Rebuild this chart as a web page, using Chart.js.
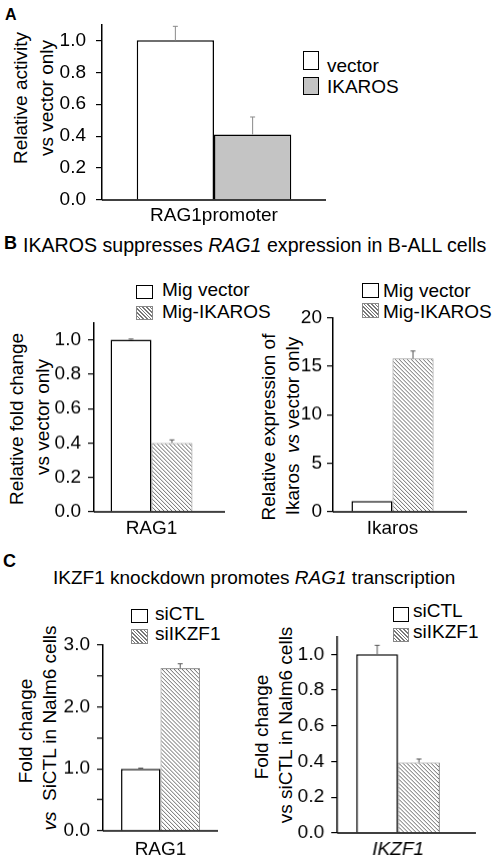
<!DOCTYPE html>
<html>
<head>
<meta charset="utf-8">
<script src="https://cdn.jsdelivr.net/npm/chart.js@4.4.1/dist/chart.umd.min.js"></script>
<style>
  html, body { margin: 0; padding: 0; background: #fff; }
  #page { position: relative; width: 494px; height: 858px; overflow: hidden; font-family: "Liberation Sans", Arial, sans-serif; color: #000; }
  #page canvas { position: absolute; }
  .txt { position: absolute; white-space: nowrap; font-size: 19px; line-height: 19px; }
  .letter { position: absolute; font-weight: bold; line-height: 1; }
  .ytitle { position: absolute; white-space: nowrap; font-size: 19px; line-height: 19px; transform: translate(-50%, -50%) rotate(-90deg); }
  .swatch { position: absolute; box-sizing: border-box; }
  .sw-open { border: 1.5px solid #000; background: #fff; }
  .sw-gray { border: 1.5px solid #000; background: #c4c4c4; }
  .sw-hatch { border: 1px solid #888; background: repeating-linear-gradient(45deg, #fff 0 1.6px, #777 1.6px 2.6px); }
</style>
</head>
<body>
<div id="page">
  <div class="letter" style="left:5px; top:7px; font-size:16px;">A</div>
  <div class="letter" style="left:4px; top:234px; font-size:18px;">B</div>
  <div class="txt" style="left:23px; top:236px; font-size:19.6px;">IKAROS suppresses <i>RAG1</i> expression in B-ALL cells</div>
  <div class="letter" style="left:3px; top:552px; font-size:18px;">C</div>
  <div class="txt" style="left:53px; top:568px;">IKZF1 knockdown promotes <i>RAG1</i> transcription</div>

  <!-- y axis titles -->
  <div class="ytitle" style="left:20px; top:98px;">Relative activity</div>
  <div class="ytitle" style="left:46px; top:98px;">vs vector only</div>
  <div class="ytitle" style="left:16px; top:419px;">Relative fold change</div>
  <div class="ytitle" style="left:42px; top:417px;">vs vector only</div>
  <div class="ytitle" style="left:268px; top:427px;">Relative expression of</div>
  <div class="ytitle" style="left:292px; top:426px;">Ikaros&nbsp; <i>vs</i> vector only</div>
  <div class="ytitle" style="left:25px; top:731px;">Fold change</div>
  <div class="ytitle" style="left:49px; top:728px;"><i>vs</i>&nbsp; SiCTL in Nalm6 cells</div>
  <div class="ytitle" style="left:261px; top:727px;">Fold change</div>
  <div class="ytitle" style="left:285px; top:725px;">vs siCTL in Nalm6 cells</div>

  <div id="legends"></div>

  <canvas id="chartA"></canvas>
  <canvas id="chartB1"></canvas>
  <canvas id="chartB2"></canvas>
  <canvas id="chartC1"></canvas>
  <canvas id="chartC2"></canvas>
</div>

<script>
// ---- data ----
const aCategories = ["RAG1promoter"];
const aSeries = ["vector", "IKAROS"];
const aValues = [1.0, 0.41];
const aErrors = [0.088, 0.11];
const aTicks = [0.0, 0.2, 0.4, 0.6, 0.8, 1.0];

const b1Categories = ["RAG1"];
const b1Series = ["Mig vector", "Mig-IKAROS"];
const b1Values = [1.0, 0.40];
const b1Errors = [0.004, 0.018];
const b1Ticks = [0.0, 0.2, 0.4, 0.6, 0.8, 1.0];

const b2Categories = ["Ikaros"];
const b2Series = ["Mig vector", "Mig-IKAROS"];
const b2Values = [1.1, 15.77];
const b2Errors = [0, 0.78];
const b2Ticks = [0, 5, 10, 15, 20];

const c1Categories = ["RAG1"];
const c1Series = ["siCTL", "siIKZF1"];
const c1Values = [1.0, 2.62];
const c1Errors = [0.01, 0.07];
const c1Ticks = [0.0, 1.0, 2.0, 3.0];

const c2Categories = ["IKZF1"];
const c2Series = ["siCTL", "siIKZF1"];
const c2Values = [1.0, 0.394];
const c2Errors = [0.05, 0.02];
const c2Ticks = [0.0, 0.2, 0.4, 0.6, 0.8, 1.0];

const FONT = '"Liberation Sans", Arial, sans-serif';

// diagonal hatch used for the second series in B and C
function makeHatch() {
  const c = document.createElement("canvas");
  c.width = 4;
  c.height = 4;
  const g = c.getContext("2d");
  g.fillStyle = "#fff";
  g.fillRect(0, 0, 4, 4);
  g.strokeStyle = "#6a6a6a";
  g.lineWidth = 1;
  g.beginPath();
  g.moveTo(-1, -1); g.lineTo(5, 5);
  g.moveTo(-1, 3); g.lineTo(1, 5);
  g.moveTo(3, -1); g.lineTo(5, 1);
  g.stroke();
  return g.createPattern(c, "repeat");
}
const hatch = makeHatch();

// error bars (upper half only) + the x axis line
const extrasPlugin = {
  id: "extras",
  afterDatasetsDraw(chart, args, opts) {
    const ctx = chart.ctx;
    const y = chart.scales.y;
    const area = chart.chartArea;
    ctx.save();
    chart.data.datasets.forEach((ds, i) => {
      const meta = chart.getDatasetMeta(i);
      meta.data.forEach((bar, j) => {
        const err = ds.errors[j];
        if (!err) return;
        const top = y.getPixelForValue(ds.data[j] + err);
        ctx.strokeStyle = opts.errColor;
        ctx.lineWidth = 1;
        ctx.beginPath();
        ctx.moveTo(bar.x, bar.y);
        ctx.lineTo(bar.x, top);
        ctx.moveTo(bar.x - 2.5, top);
        ctx.lineTo(bar.x + 2.5, top);
        ctx.stroke();
      });
    });
    ctx.strokeStyle = "#000";
    ctx.lineWidth = 1.5;
    ctx.beginPath();
    ctx.moveTo(area.left, area.bottom);
    ctx.lineTo(area.right + opts.ext, area.bottom);
    ctx.stroke();
    ctx.restore();
  }
};

const PAD_L = 56, PAD_T = 14, PAD_R = 30, PAD_B = 40;

function barPanel(id, p) {
  const canvas = document.getElementById(id);
  const w = p.area.right - p.area.left + PAD_L + PAD_R;
  const h = p.area.bottom - p.area.top + PAD_T + PAD_B;
  canvas.width = w;
  canvas.height = h;
  canvas.style.width = w + "px";
  canvas.style.height = h + "px";
  canvas.style.left = (p.area.left - PAD_L) + "px";
  canvas.style.top = (p.area.top - PAD_T) + "px";

  const majors = p.ticks;
  const all = [];
  majors.forEach((v, i) => {
    all.push(v);
    if (i < majors.length - 1) all.push((v + majors[i + 1]) / 2);
  });

  return new Chart(canvas, {
    type: "bar",
    data: {
      labels: p.categories,
      datasets: p.series.map((name, i) => ({
        label: name,
        data: [p.values[i]],
        errors: [p.errors[i]],
        backgroundColor: p.fills[i],
        borderColor: p.borders[i],
        borderWidth: p.borderWidths[i],
        barPercentage: 1,
        categoryPercentage: p.frac
      }))
    },
    options: {
      responsive: false,
      maintainAspectRatio: false,
      animation: false,
      events: [],
      layout: { padding: { left: 0, top: PAD_T, right: PAD_R, bottom: 0 } },
      plugins: {
        legend: { display: false },
        tooltip: { enabled: false },
        extras: { ext: p.ext, errColor: p.errColor }
      },
      scales: {
        x: {
          grid: { display: false, drawTicks: false },
          border: { display: false },
          ticks: {
            color: "#000",
            padding: p.labelPad,
            font: { family: FONT, size: 19, style: p.labelStyle || "normal" }
          },
          afterFit(scale) { scale.height = PAD_B; }
        },
        y: {
          min: 0,
          max: p.max,
          grid: { display: true, drawOnChartArea: false, drawTicks: true, tickLength: 6, color: "#000", lineWidth: 1.2 },
          border: { display: true, color: "#000", width: 1.5 },
          afterBuildTicks(scale) { scale.ticks = all.map(v => ({ value: v })); },
          ticks: {
            color: "#000",
            padding: p.tickPad,
            font: { family: FONT, size: 19 },
            callback(value) {
              const isMajor = majors.some(m => Math.abs(m - value) < 1e-9);
              return isMajor ? value.toFixed(p.decimals) : "";
            }
          },
          afterFit(scale) { scale.width = PAD_L; }
        }
      }
    },
    plugins: [extrasPlugin]
  });
}

function legend(items) {
  const box = document.getElementById("legends");
  items.forEach(it => {
    const s = document.createElement("div");
    s.className = "swatch " + it.cls;
    s.style.left = it.x + "px";
    s.style.top = it.y + "px";
    s.style.width = it.w + "px";
    s.style.height = it.h + "px";
    box.appendChild(s);
    const t = document.createElement("div");
    t.className = "txt";
    t.textContent = it.text;
    t.style.left = it.tx + "px";
    t.style.top = it.ty + "px";
    box.appendChild(t);
  });
}

barPanel("chartA", {
  categories: aCategories, series: aSeries, values: aValues, errors: aErrors, ticks: aTicks,
  max: 1.1, decimals: 1, frac: 0.69, ext: 0, labelPad: 4, tickPad: 10,
  area: { left: 101.5, top: 17, right: 326, bottom: 200 },
  fills: ["#fff", "#c4c4c4"], borders: ["#000", "#000"], borderWidths: [1.5, 1.5], errColor: "#8a8a8a"
});
barPanel("chartB1", {
  categories: b1Categories, series: b1Series, values: b1Values, errors: b1Errors, ticks: b1Ticks,
  max: 1.1, decimals: 1, frac: 0.712, ext: 16, labelPad: 5, tickPad: 7,
  area: { left: 93.5, top: 318, right: 208.5, bottom: 511.5 },
  fills: ["#fff", hatch], borders: ["#000", "#888"], borderWidths: [1.5, 1], errColor: "#555"
});
barPanel("chartB2", {
  categories: b2Categories, series: b2Series, values: b2Values, errors: b2Errors, ticks: b2Ticks,
  max: 20, decimals: 0, frac: 0.69, ext: 15, labelPad: 5, tickPad: 5,
  area: { left: 332.5, top: 315, right: 451.5, bottom: 511.5 },
  fills: ["#fff", hatch], borders: ["#000", "#888"], borderWidths: [1.5, 1], errColor: "#555"
});
barPanel("chartC1", {
  categories: c1Categories, series: c1Series, values: c1Values, errors: c1Errors, ticks: c1Ticks,
  max: 3.0, decimals: 1, frac: 0.686, ext: 0, labelPad: 7, tickPad: 7,
  area: { left: 102.5, top: 640, right: 217.5, bottom: 830.5 },
  fills: ["#fff", hatch], borders: ["#000", "#888"], borderWidths: [1.5, 1], errColor: "#555"
});
barPanel("chartC2", {
  categories: c2Categories, series: c2Series, values: c2Values, errors: c2Errors, ticks: c2Ticks,
  max: 1.1, decimals: 1, frac: 0.686, ext: 17, labelPad: 5, tickPad: 7, labelStyle: "italic",
  area: { left: 337, top: 631.5, right: 458.5, bottom: 832.5 },
  fills: ["#fff", hatch], borders: ["#000", "#888"], borderWidths: [1.5, 1], errColor: "#555"
});

legend([
  { cls: "sw-open", x: 303, y: 51, w: 16, h: 19, text: "vector", tx: 327, ty: 56 },
  { cls: "sw-gray", x: 303, y: 77, w: 16, h: 18, text: "IKAROS", tx: 327, ty: 77 },
  { cls: "sw-open", x: 136, y: 285, w: 17, h: 14, text: "Mig vector", tx: 162, ty: 280 },
  { cls: "sw-hatch", x: 136, y: 306, w: 17, h: 14, text: "Mig-IKAROS", tx: 162, ty: 302 },
  { cls: "sw-open", x: 362, y: 283, w: 17, h: 15, text: "Mig vector", tx: 383, ty: 281 },
  { cls: "sw-hatch", x: 362, y: 303, w: 17, h: 15, text: "Mig-IKAROS", tx: 383, ty: 302 },
  { cls: "sw-open", x: 131, y: 609, w: 17, h: 14, text: "siCTL", tx: 155, ty: 604 },
  { cls: "sw-hatch", x: 131, y: 629, w: 17, h: 15, text: "siIKZF1", tx: 155, ty: 624 },
  { cls: "sw-open", x: 393, y: 607, w: 16, h: 15, text: "siCTL", tx: 413, ty: 601 },
  { cls: "sw-hatch", x: 393, y: 628, w: 16, h: 14, text: "siIKZF1", tx: 413, ty: 622 }
]);
</script>
</body>
</html>
